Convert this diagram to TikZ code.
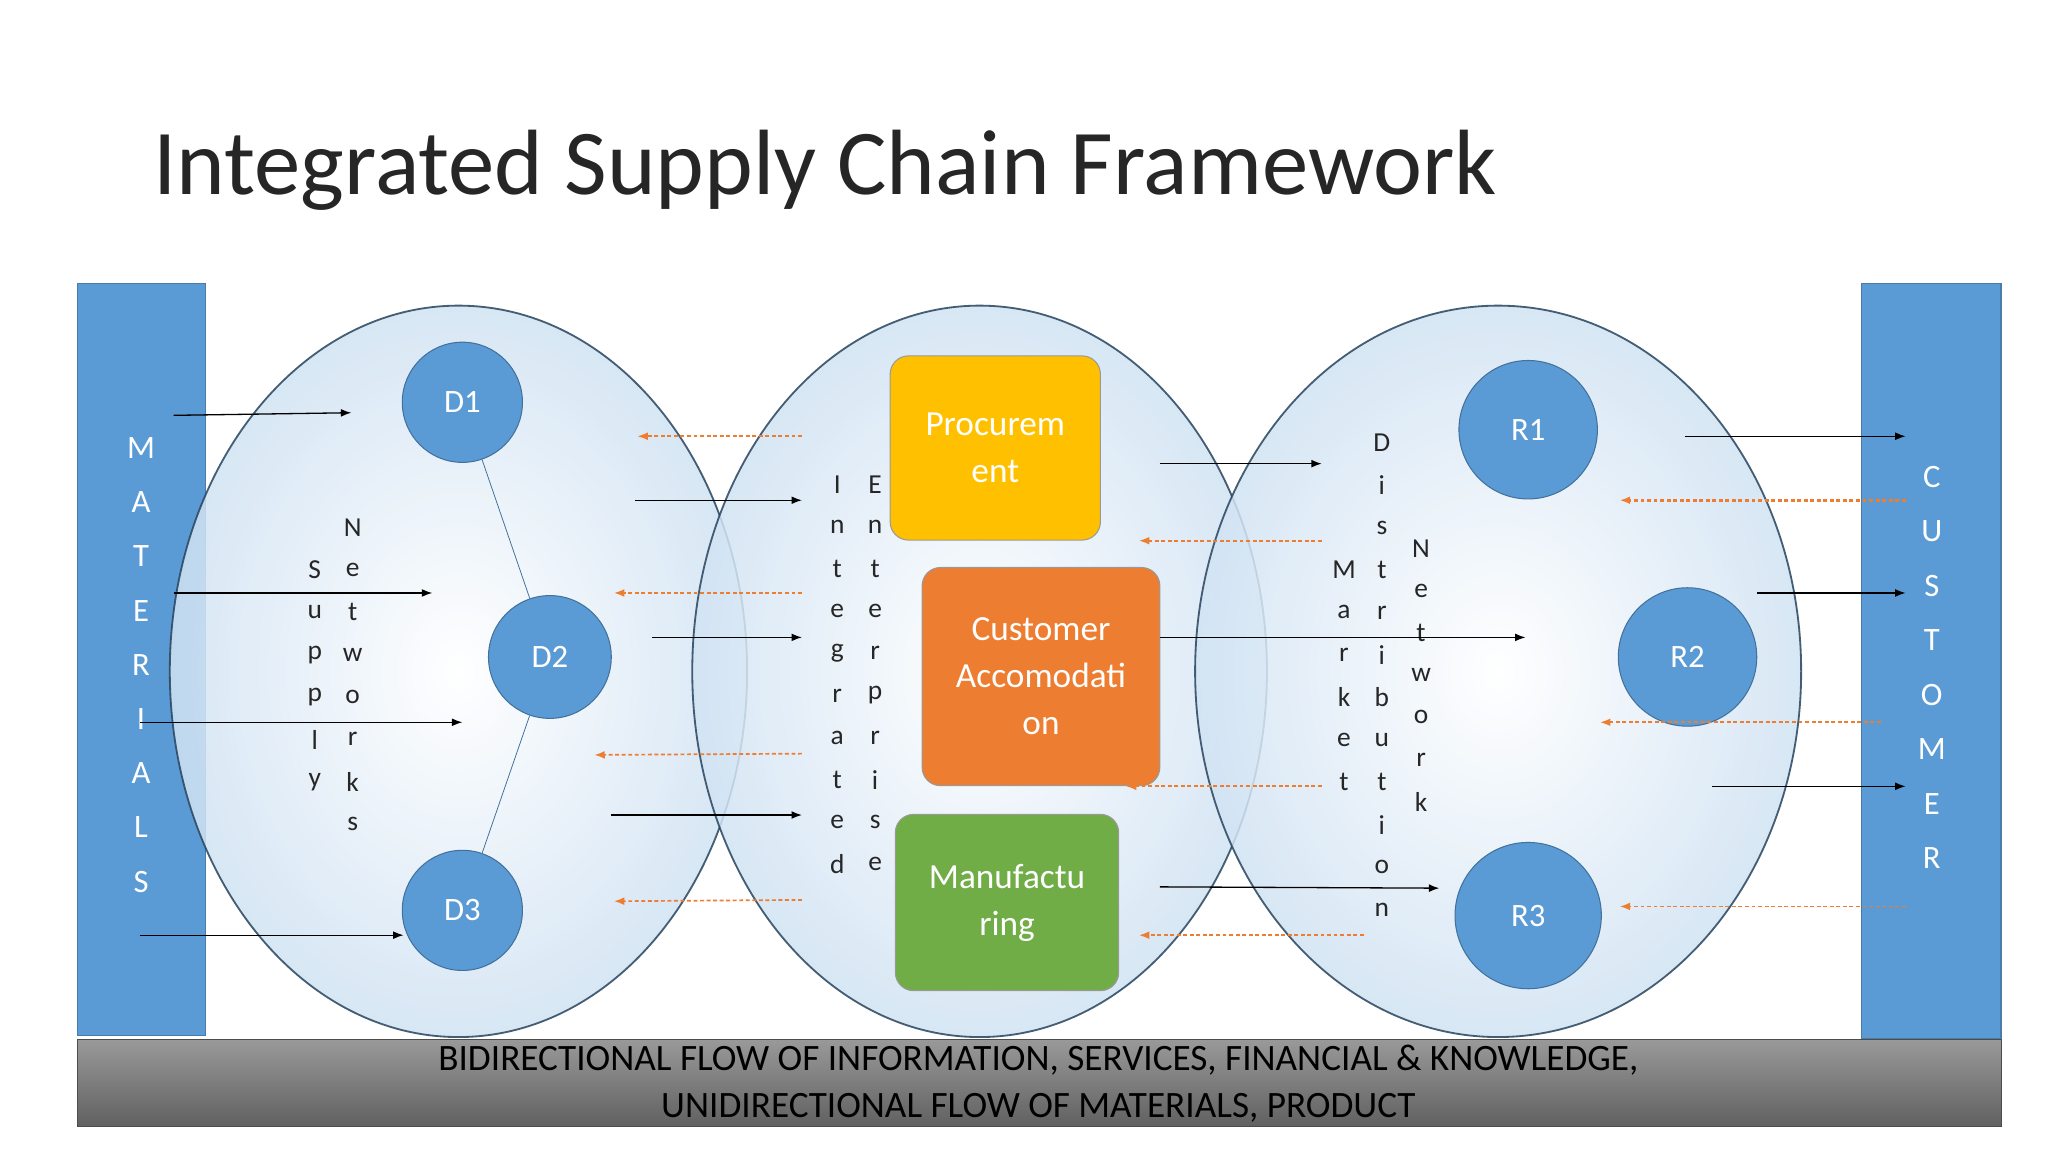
\documentclass[tikz,border=0pt]{standalone}
\usepackage{fontspec}
\setmainfont{Carlito}
\usetikzlibrary{arrows.meta}
\definecolor{sblue}{HTML}{5B9BD5}
\definecolor{dblue}{HTML}{41719C}
\definecolor{sorange}{HTML}{ED7D31}
\definecolor{syellow}{HTML}{FFC000}
\definecolor{sgreen}{HTML}{70AD47}
\begin{document}
\begin{tikzpicture}[x=1pt,y=-1pt,
 bar/.style={fill=sblue,draw=sblue!80!black,line width=0.8pt},
 ell/.style={inner color=white,outer color=sblue!28,draw=dblue!60!black,line width=1.4pt,opacity=0.85},
 circ/.style={circle,fill=sblue,draw=dblue,line width=0.8pt,text=white,font=\fontsize{25}{27}\selectfont},
 box/.style={rounded corners=14pt,draw=black!40,line width=0.8pt,text=white,font=\fontsize{27}{36}\selectfont,align=center},
 arr/.style={-{Latex[length=8pt,width=6pt]},line width=1pt,black},
 oarr/.style={-{Latex[length=8pt,width=6pt]},dashed,dash pattern=on 3pt off 2pt,line width=1.3pt,sorange},
 let/.style={font=\fontsize{21}{21}\selectfont,text=black!85},
 blet/.style={font=\fontsize{25}{25}\selectfont,text=white}]
\useasboundingbox (0,0) rectangle (1568,882);
\fill[white] (0,0) rectangle (1568,882);
\node[anchor=west,font=\fontsize{71}{76}\selectfont,text=black!85] (title) at (114,130) {Integrated Supply Chain Framework};
\draw[bar] (59,217) rectangle (157,793);
\draw[bar] (1425,217) rectangle (1532,795);
\shade[top color=black!40,bottom color=black!62,draw=black!70] (59,796) rectangle (1532,862);
\node[align=center,font=\fontsize{28.5}{36}\selectfont] (bottom) at (795,830) {BIDIRECTIONAL FLOW OF INFORMATION, SERVICES, FINANCIAL \& KNOWLEDGE,\\UNIDIRECTIONAL FLOW OF MATERIALS, PRODUCT};
\draw[ell] (351,514) ellipse [x radius=221,y radius=280];
\draw[ell] (750,514) ellipse [x radius=220,y radius=280];
\draw[ell] (1147,514) ellipse [x radius=232,y radius=280];
\node[circ,minimum size=92pt] (D1) at (354,308) {D1};
\node[circ,minimum size=94pt] (D2) at (421,503) {D2};
\node[circ,minimum size=92pt] (D3) at (354,697) {D3};
\draw[dblue,line width=0.6pt] (D1) -- (D2) -- (D3);
\node[circ,minimum size=106pt] (R1) at (1170,329) {R1};
\node[circ,minimum size=106pt] (R2) at (1292,503) {R2};
\node[circ,minimum size=112pt] (R3) at (1170,701) {R3};
\node[box,fill=syellow,minimum width=161pt,minimum height=141pt] (P) at (762,343) {Procurem\\ent};
\node[box,fill=sorange,minimum width=182pt,minimum height=167pt] (C) at (797,518) {Customer\\Accomodati\\on};
\node[box,fill=sgreen,minimum width=171pt,minimum height=135pt] (M) at (771,691) {Manufactu\\ring};
\foreach \c [count=\i] in {M,A,T,E,R,I,A,L,S} \node[blet] (m\i) at (108,{343+41.5*(\i-1)}) {\c};
\foreach \c [count=\i] in {C,U,S,T,O,M,E,R} \node[blet] (c\i) at (1479,{365+41.7*(\i-1)}) {\c};
\foreach \c [count=\i] in {S,u,p,p,l,y} \node[let] (s\i) at (241,{436+32.6*(\i-1)}) {\c};
\foreach \c [count=\i] in {N,e,t,w,o,r,k,s} \node[let] (n\i) at (270,{404+32.4*(\i-1)}) {\c};
\foreach \c [count=\i] in {I,n,t,e,g,r,a,t,e,d} \node[let] (i\i) at (641,{371+32.3*(\i-1)}) {\c};
\foreach \c [count=\i] in {E,n,t,e,r,p,r,i,s,e} \node[let] (e\i) at (670,{371+32.3*(\i-1)}) {\c};
\foreach \c [count=\i] in {M,a,r,k,e,t} \node[let] (k\i) at (1029,{436+32.6*(\i-1)}) {\c};
\foreach \c [count=\i] in {D,i,s,t,r,i,b,u,t,i,o,n} \node[let] (d\i) at (1058,{339+32.5*(\i-1)}) {\c};
\foreach \c [count=\i] in {N,e,t,w,o,r,k} \node[let] (w\i) at (1088,{420+32.3*(\i-1)}) {\c};
\foreach \a/\b/\c/\d in {133/318/269/316,133/454/331/454,107/553/354/553,107/716/309/716,486/383/614/383,499/488/614/488,468/624/614/624,888/355/1012/355,888/488/1168/488,888/679/1102/680,1290/334/1459/334,1345/454/1459/454,1311/602/1459/602}
 \draw[arr] (\a,\b) -- (\c,\d);
\foreach \a/\b/\c/\d in {614/334/488/334,614/454/470/454,614/577/455/578,614/689/470/690,1012/414/872/414,1012/602/862/602,1044/716/872/716,1440/553/1225/553,1459/694/1240/694}
 \draw[oarr] (\a,\b) -- (\c,\d);
\draw[oarr,line width=2.2pt] (1459,383) -- (1240,383);
\end{tikzpicture}
\end{document}
